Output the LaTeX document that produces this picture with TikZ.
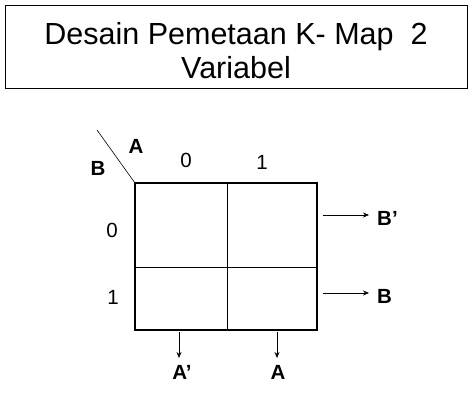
\documentclass[tikz,border=0pt]{standalone}
\usepackage{fontspec}
\setmainfont{Liberation Sans}
\usetikzlibrary{arrows.meta}
\begin{document}
\begin{tikzpicture}[x=1pt,y=-1pt,
  lbl/.style={inner sep=0pt,font=\fontsize{20.5}{24}\selectfont},
  blbl/.style={inner sep=0pt,font=\fontsize{20.5}{24}\selectfont\bfseries},
  arr/.style={-{Stealth[length=6pt,width=5pt]},line width=0.6pt},
  thin/.style={line width=0.6pt}]
\useasboundingbox (0,0) rectangle (475,400);
\node[draw,line width=1pt,minimum width=462pt,minimum height=83pt,anchor=north west,inner sep=0pt] (title) at (5,5) {};
\node[align=center,font=\fontsize{30.5}{34}\selectfont,inner sep=0pt] (ttext) at (236,51) {Desain Pemetaan K- Map\ \ 2\\Variabel};
% grid
\coordinate (tl) at (135,183);
\coordinate (br) at (317,330);
\coordinate (tm) at (227,183);
\coordinate (bm) at (227,330);
\coordinate (ml) at (135,267);
\coordinate (mr) at (317,267);
\coordinate (dg) at (97,130);
\draw[thin] (tm) -- (bm);
\draw[thin] (ml) -- (mr);
\draw[line width=2.5pt] (tl) rectangle (br);
\draw[thin] (dg) -- (tl);
\node[blbl] (la) at (136,146) {A};
\node[blbl] (lb) at (98,168) {B};
\node[lbl] (c0) at (186,160) {0};
\node[lbl] (c1) at (262,162) {1};
\node[lbl] (r0) at (112,230) {0};
\node[lbl] (r1) at (113,297) {1};
% arrows
\coordinate (s1) at (323,215);
\coordinate (s2) at (323,293);
\coordinate (s3) at (179,332);
\coordinate (s4) at (277,332);
\node[blbl,anchor=west] (bp) at (377,218) {B'};
\node[blbl,anchor=west] (bb) at (377,296) {B};
\node[blbl] (ap) at (182,372) {A'};
\node[blbl] (aa) at (278,372) {A};
\draw[arr] (s1) -- ++(46,0);
\draw[arr] (s2) -- ++(46,0);
\draw[arr] (s3) -- ++(0,26);
\draw[arr] (s4) -- ++(0,26);
\end{tikzpicture}
\end{document}
